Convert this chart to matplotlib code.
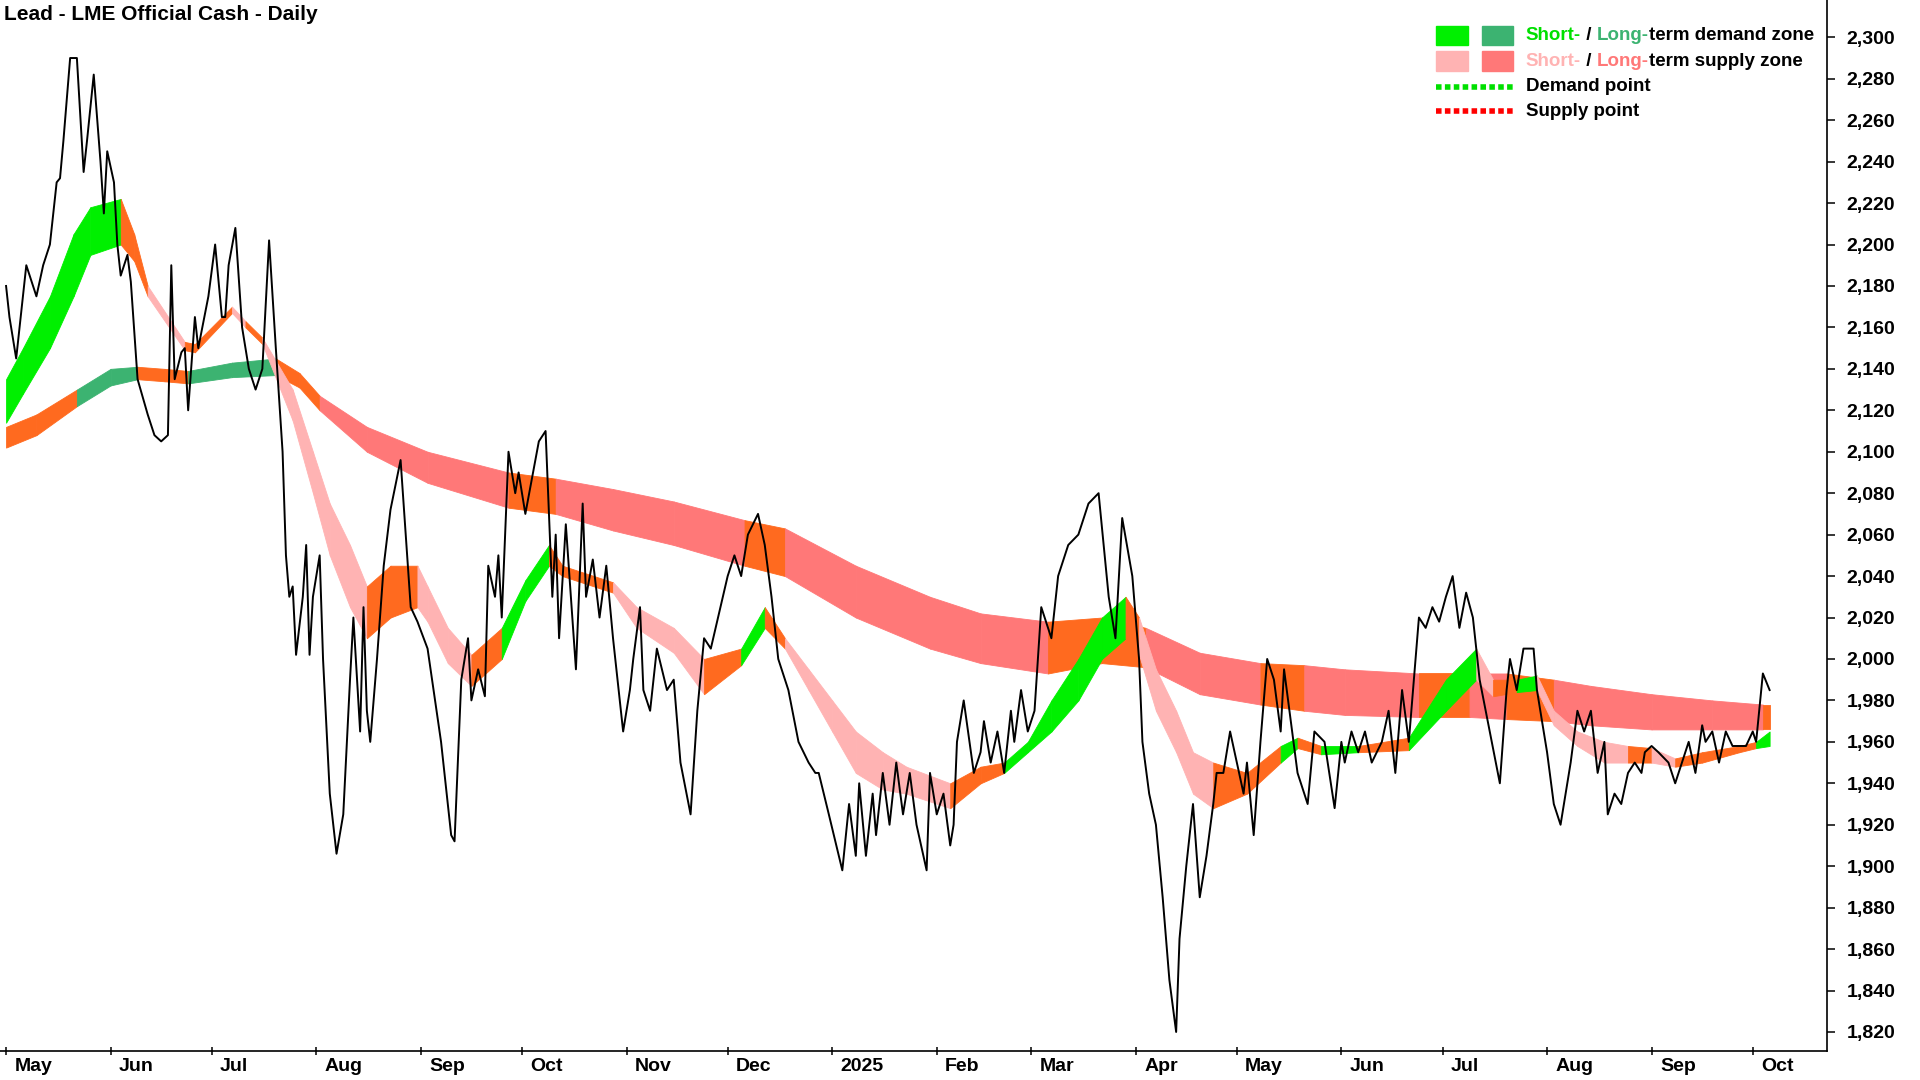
import numpy as np
import pandas as pd
import matplotlib
matplotlib.use("Agg")
import matplotlib.pyplot as plt
import matplotlib.dates as mdates
import matplotlib.transforms as mtrans
from matplotlib.patches import Rectangle
from matplotlib.lines import Line2D
from matplotlib.ticker import MultipleLocator, FuncFormatter

plt.rcParams['font.family'] = ['Liberation Sans', 'DejaVu Sans']

title = "Lead - LME Official Cash - Daily"
base_date = pd.Timestamp("2024-05-01")

price_day = [0,1,3,6,9,11,13,15,16,17,19,21,23,24,26,28,29,30,32,33,34,36,37,39,42,44,46,48,49,50,52,53,54,56,57,60,62,64,65,66,68,70,72,74,75,76,78,80,82,83,84,85,86,88,89,90,91,93,94,96,98,100,102,103,105,106,107,108,110,112,114,117,120,122,125,129,132,133,135,137,138,140,142,143,145,146,147,149,151,152,154,158,160,162,163,164,166,169,171,172,174,176,178,180,183,185,186,188,189,191,193,196,198,200,203,205,207,209,214,216,218,220,223,225,227,229,232,235,238,240,241,244,248,250,252,253,255,257,258,260,262,264,266,268,270,273,274,276,278,280,281,282,284,287,289,290,292,294,296,298,299,301,303,305,307,310,312,315,318,321,324,327,329,331,334,336,337,339,341,343,345,347,348,350,352,354,356,358,359,361,363,367,368,370,372,374,376,378,379,383,386,388,391,394,396,397,399,401,403,405,408,410,412,414,416,417,419,421,423,425,427,429,431,433,435,437,440,443,445,446,448,450,453,454,457,459,461,464,466,468,470,472,474,475,477,479,481,483,485,486,488,490,493,495,497,499,501,503,504,506,508,510,512,516,518,519,521,523]
price = [2180,2165,2145,2190,2175,2190,2200,2230,2232,2250,2290,2290,2235,2250,2282,2240,2215,2245,2230,2200,2185,2195,2182,2135,2118,2108,2105,2108,2190,2135,2148,2150,2120,2165,2150,2175,2200,2165,2165,2190,2208,2160,2140,2130,2135,2140,2202,2150,2100,2050,2030,2035,2002,2030,2055,2002,2030,2050,2000,1935,1906,1925,1990,2020,1965,2025,1975,1960,2000,2045,2072,2096,2025,2018,2005,1960,1915,1912,1990,2010,1980,1995,1982,2045,2030,2050,2020,2100,2080,2090,2070,2105,2110,2030,2060,2010,2065,1995,2075,2030,2048,2020,2045,2010,1965,1985,2000,2025,1985,1975,2005,1985,1990,1950,1925,1975,2010,2005,2040,2050,2040,2060,2070,2055,2030,2000,1985,1960,1950,1945,1945,1925,1898,1930,1905,1940,1905,1935,1915,1945,1920,1950,1925,1945,1920,1898,1945,1925,1935,1910,1920,1960,1980,1945,1955,1970,1950,1965,1945,1975,1960,1985,1965,1975,2025,2010,2040,2055,2060,2075,2080,2030,2010,2068,2040,2000,1960,1935,1920,1885,1845,1820,1865,1900,1930,1885,1905,1930,1945,1945,1965,1935,1950,1915,1960,2000,1990,1965,1995,1945,1930,1965,1960,1928,1960,1950,1965,1955,1965,1950,1960,1975,1945,1985,1960,1980,2020,2015,2025,2018,2030,2040,2015,2032,2020,1990,1965,1940,1985,2000,1985,2005,2005,1985,1955,1930,1920,1950,1975,1965,1975,1945,1960,1925,1935,1930,1945,1950,1945,1955,1958,1955,1950,1940,1950,1960,1945,1968,1960,1965,1950,1965,1958,1958,1965,1960,1993,1985]

long_day = [0,9,21,31,39,47,54,67,80,87,93,107,125,149,163,180,198,219,231,252,274,289,309,325,338,354,372,385,397,419,434,445,459,470,488,506,521,523]
long_upper = [2112,2118,2130,2140,2141,2140,2139,2143,2145,2138,2127,2112,2100,2090,2087,2082,2076,2067,2063,2045,2030,2022,2018,2020,2015,2003,1998,1997,1995,1993,1993,1993,1990,1987,1983,1980,1978,1978]
long_lower = [2102,2108,2122,2132,2135,2134,2133,2136,2137,2131,2120,2100,2085,2073,2070,2062,2055,2045,2040,2020,2005,1998,1993,1998,1996,1983,1978,1975,1973,1972,1972,1971,1970,1968,1966,1966,1966,1966]
long_state = ['o','o','g','g','o','o','g','g','o','o','s','s','s','o','s','s','s','o','s','s','s','s','o','o','s','s','o','s','s','o','s','o','s','s','s','s','o','o']

short_day = [0,5,13,20,25,34,38,42,53,56,67,71,76,85,91,96,102,107,114,122,125,131,138,147,154,161,165,180,187,198,207,218,225,231,238,245,252,260,267,280,289,296,303,310,318,325,332,336,341,347,352,358,368,378,383,390,401,416,427,436,441,448,454,459,466,474,481,488,495,503,514,519,523]
short_upper = [2135,2150,2175,2205,2218,2222,2205,2180,2153,2152,2170,2163,2155,2130,2100,2075,2055,2035,2045,2045,2035,2015,2002,2015,2038,2055,2045,2037,2025,2015,2000,2005,2025,2010,1995,1980,1965,1955,1948,1940,1948,1950,1960,1980,2000,2020,2030,2020,1995,1975,1955,1950,1945,1958,1962,1958,1958,1962,1990,2005,1990,1990,1992,1975,1965,1960,1958,1957,1952,1955,1958,1960,1965]
short_lower = [2114,2128,2150,2175,2195,2200,2192,2175,2149,2148,2167,2160,2152,2115,2080,2050,2025,2010,2020,2025,2018,1998,1987,2000,2028,2045,2040,2032,2015,2003,1983,1997,2015,2005,1985,1965,1945,1937,1935,1928,1940,1945,1955,1965,1980,2000,2010,2002,1975,1955,1935,1928,1935,1950,1957,1954,1955,1956,1975,1990,1982,1984,1985,1968,1958,1950,1950,1950,1948,1950,1955,1957,1958]
short_state = ['g','g','g','g','g','o','o','s','o','o','s','o','s','s','s','s','s','o','o','s','s','s','o','g','g','o','o','s','s','s','o','g','o','s','s','s','s','s','s','o','o','g','g','g','g','g','o','s','s','s','s','o','o','g','o','g','o','g','g','s','o','g','s','s','s','s','o','s','o','o','o','g','g']

short_col = {'g': '#00F000', 's': '#FFB3B3', 'o': '#FF6A1F'}
long_col = {'g': '#3CB371', 's': '#FF7878', 'o': '#FF6A1F'}

W, H = 1568.0, 882.0
fig = plt.figure(figsize=(19.2, 10.8), dpi=100)
ax = fig.add_axes([0, 24 / H, 1492 / W, 1 - 24 / H])

def to_dates(days):
    return base_date + pd.to_timedelta(days, unit="D")

def draw_band(days, up, lo, states, cols):
    d = to_dates(days)
    for i in range(len(days) - 1):
        ax.fill_between(d[i:i + 2], lo[i:i + 2], up[i:i + 2], color=cols[states[i]],
                        linewidth=0.6, edgecolor=cols[states[i]], zorder=2)

draw_band(long_day, long_upper, long_lower, long_state, long_col)
draw_band(short_day, short_upper, short_lower, short_state, short_col)
ax.plot(to_dates(price_day), price, color='black', lw=1.4, zorder=5)

ax.set_xlim(base_date - pd.Timedelta(days=1.8), base_date + pd.Timedelta(days=540))
ax.set_ylim(1811, 2318)

for s in ['left', 'top']:
    ax.spines[s].set_visible(False)
ax.spines['right'].set_linewidth(1.2)
ax.spines['bottom'].set_linewidth(1.2)

ax.yaxis.tick_right()
ax.yaxis.set_major_locator(MultipleLocator(20))
ax.yaxis.set_major_formatter(FuncFormatter(lambda v, p: f"{int(v):,}"))
ax.tick_params(axis='y', labelsize=14, length=6, width=1.1, pad=8)

ax.xaxis.set_major_locator(mdates.MonthLocator())
def mfmt(x, p):
    d = mdates.num2date(x)
    return "2025" if (d.month == 1) else d.strftime("%b")
ax.xaxis.set_major_formatter(FuncFormatter(mfmt))
ax.tick_params(axis='x', labelsize=14, length=6, width=1.1, direction='inout', pad=2)
off = mtrans.ScaledTranslation(6 / 72, 0, fig.dpi_scale_trans)
for lab in ax.get_xticklabels():
    lab.set_horizontalalignment('left')
    lab.set_fontweight('bold')
    lab.set_transform(lab.get_transform() + off)
for lab in ax.get_yticklabels():
    lab.set_fontweight('bold')

fig.text(3 / W, 1 - 12 / H, title, fontsize=15, fontweight='bold', va='center', ha='left')

def fx(x): return x / W
def fy(y): return 1 - y / H
rows = [(29, '#00F000', '#3CB371'), (50, '#FFB3B3', '#FF7878')]
for y, c1, c2 in rows:
    fig.patches.append(Rectangle((fx(1173), fy(y + 8)), fx(26), 16 / H, color=c1, transform=fig.transFigure))
    fig.patches.append(Rectangle((fx(1210), fy(y + 8)), fx(26), 16 / H, color=c2, transform=fig.transFigure))
for y, c in [(71, '#00E000'), (91, '#FF0000')]:
    fig.lines.append(Line2D([fx(1173), fx(1236)], [fy(y), fy(y)], color=c, lw=4,
                            linestyle=(0, (1, 0.6)), transform=fig.transFigure))

renderer = fig.canvas.get_renderer()
def chain(x, y, pieces):
    xx = fx(x)
    for txt, col in pieces:
        t = fig.text(xx, fy(y), txt, color=col, fontsize=13.5, fontweight='bold', va='center', ha='left')
        bb = t.get_window_extent(renderer)
        xx += bb.width / fig.bbox.width

chain(1246, 29, [("Short-", '#00E000'), (" / ", 'black'), ("Long-", '#3CB371'), ("term demand zone", 'black')])
chain(1246, 50, [("Short-", '#FFB3B3'), (" / ", 'black'), ("Long-", '#FF7878'), ("term supply zone", 'black')])
chain(1246, 71, [("Demand point", 'black')])
chain(1246, 91, [("Supply point", 'black')])

fig.savefig("out.png", dpi=100)
